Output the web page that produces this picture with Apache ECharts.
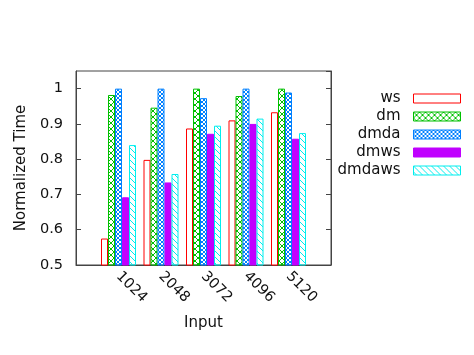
<!DOCTYPE html>
<html><head><meta charset="utf-8">
<script src="https://cdn.jsdelivr.net/npm/echarts@6/dist/echarts.min.js"></script>
<style>html,body{margin:0;padding:0;background:#fff}#c{width:474px;height:355px}</style>
</head><body><div id="c"></div>
<script>
const categories = ['1024', '2048', '3072', '4096', '5120'];
const seriesNames = ['ws', 'dm', 'dmda', 'dmws', 'dmdaws'];
const ws = [0.575, 0.798, 0.887, 0.910, 0.933];
const dm = [0.982, 0.946, 1.000, 0.979, 1.000];
const dmda = [1.000, 1.000, 0.973, 1.000, 0.989];
const dmws = [0.692, 0.734, 0.872, 0.900, 0.858];
const dmdaws = [0.840, 0.758, 0.895, 0.915, 0.874];
const yTicks = [0.5, 0.6, 0.7, 0.8, 0.9, 1];

function pattern(kind, color) {
  const s = kind === 'dense' ? 4 : 6;
  const c = document.createElement('canvas');
  c.width = s; c.height = s;
  const g = c.getContext('2d');
  g.strokeStyle = color; g.lineWidth = 1;
  g.beginPath();
  if (kind === 'cross' || kind === 'dense') {
    g.moveTo(0, 0); g.lineTo(s, s);
    g.moveTo(s, 0); g.lineTo(0, s);
  } else if (kind === 'back') {
    g.moveTo(0, 0); g.lineTo(s, s);
    g.moveTo(-s, 0); g.lineTo(s, 2 * s);
    g.moveTo(0, -s); g.lineTo(2 * s, s);
  }
  g.stroke();
  return { image: c, repeat: 'repeat' };
}

const colors = ['#ff0000', '#00c000', '#0080ff', '#c000ff', '#00eeee'];
const fills = [
  '#ffffff',
  pattern('cross', '#00c000'),
  pattern('dense', '#0080ff'),
  '#c000ff',
  pattern('back', '#00eeee')
];
const values = [ws, dm, dmda, dmws, dmdaws];
const axisCats = [''].concat(categories, ['']);

const chart = echarts.init(document.getElementById('c'));
const font = 'DejaVu Sans';
chart.setOption({
  animation: false,
  backgroundColor: '#fff',
  textStyle: { fontFamily: font },
  grid: { left: 76, right: 143, top: 71, bottom: 90, show: true, borderColor: '#444', borderWidth: 1, backgroundColor: 'transparent' },
  legend: {
    orient: 'vertical', right: 8, top: 86, align: 'right',
    itemWidth: 47, itemHeight: 9, itemGap: 3,
    textStyle: { fontFamily: font, fontSize: 15, color: '#111', padding: [0, 8, 0, 0] },
    data: seriesNames.map((n, i) => ({ name: n, icon: 'rect', itemStyle: { color: fills[i], borderColor: colors[i], borderWidth: 1 } }))
  },
  xAxis: {
    type: 'category', data: axisCats, boundaryGap: false,
    name: 'Input', nameLocation: 'middle', nameGap: 51,
    nameTextStyle: { fontFamily: font, fontSize: 15, color: '#111' },
    axisLine: { show: true, lineStyle: { color: '#444' } },
    axisTick: { show: false },
    axisLabel: { rotate: -45, fontFamily: font, fontSize: 14.5, color: '#111', margin: 9, interval: 0 },
    splitLine: { show: false }
  },
  yAxis: [{
    type: 'value', min: 0.5, max: 1.05, interval: 0.1,
    name: 'Normalized Time', nameLocation: 'middle', nameGap: 45,
    nameTextStyle: { fontFamily: font, fontSize: 15, color: '#111' },
    axisLine: { show: true, lineStyle: { color: '#444' } },
    axisTick: { show: true, inside: true, length: 5, lineStyle: { color: '#444' } },
    axisLabel: { fontFamily: font, fontSize: 14.5, color: '#111', margin: 13, showMaxLabel: false,
      formatter: v => (yTicks.some(t => Math.abs(t - v) < 1e-6) ? String(+v.toFixed(2)) : '') },
    splitLine: { show: false }
  }, {
    type: 'value', min: 0.5, max: 1.05, interval: 0.1, position: 'right',
    axisLine: { show: true, lineStyle: { color: '#444' } },
    axisTick: { show: true, inside: true, length: 5, lineStyle: { color: '#444' } },
    axisLabel: { show: false }, splitLine: { show: false }
  }],
  series: seriesNames.map((n, i) => ({
    name: n, type: 'bar', barWidth: 7, barGap: '0%',
    data: [null].concat(values[i], [null]),
    itemStyle: { color: fills[i], borderColor: colors[i], borderWidth: 1 }
  }))
});
</script></body></html>
